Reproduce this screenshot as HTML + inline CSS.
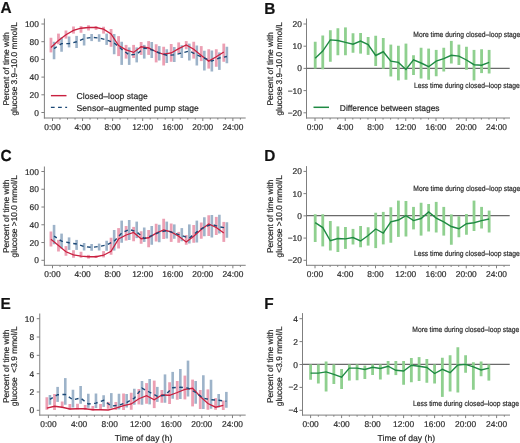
<!DOCTYPE html>
<html><head><meta charset="utf-8"><style>
html,body{margin:0;padding:0;background:#fff;width:520px;height:443px;overflow:hidden}
svg{display:block;font-family:"Liberation Sans", sans-serif;will-change:transform;text-rendering:geometricPrecision}
svg{color:#2a2a2a} text{stroke:currentColor;stroke-width:0.2px}
</style></head><body>
<svg width="520" height="443" viewBox="0 0 520 443">

<text transform="translate(0.4,13.4) scale(1,1.04)" font-size="15.4" font-weight="bold" fill="#111">A</text>
<text transform="translate(264.3,13.5) scale(1,1.04)" font-size="15.4" font-weight="bold" fill="#111">B</text>
<text transform="translate(0.4,161.2) scale(1,1.04)" font-size="15.4" font-weight="bold" fill="#111">C</text>
<text transform="translate(264.3,161.2) scale(1,1.04)" font-size="15.4" font-weight="bold" fill="#111">D</text>
<text transform="translate(0.4,308.6) scale(1,1.04)" font-size="15.4" font-weight="bold" fill="#111">E</text>
<text transform="translate(264.3,308.6) scale(1,1.04)" font-size="15.4" font-weight="bold" fill="#111">F</text>
<line x1="44.4" y1="18.5" x2="44.4" y2="118.5" stroke="#7f7f7f" stroke-width="1" />
<line x1="43.9" y1="118" x2="245.7" y2="118" stroke="#7f7f7f" stroke-width="1" />
<line x1="41.4" y1="24" x2="44.4" y2="24" stroke="#7f7f7f" stroke-width="1" />
<text x="38.9" y="27.05" font-size="8.4" text-anchor="end" font-weight="normal" fill="#2a2a2a" >100</text>
<line x1="41.4" y1="41.7" x2="44.4" y2="41.7" stroke="#7f7f7f" stroke-width="1" />
<text x="38.9" y="44.75" font-size="8.4" text-anchor="end" font-weight="normal" fill="#2a2a2a" >80</text>
<line x1="41.4" y1="59.4" x2="44.4" y2="59.4" stroke="#7f7f7f" stroke-width="1" />
<text x="38.9" y="62.45" font-size="8.4" text-anchor="end" font-weight="normal" fill="#2a2a2a" >60</text>
<line x1="41.4" y1="77.1" x2="44.4" y2="77.1" stroke="#7f7f7f" stroke-width="1" />
<text x="38.9" y="80.15" font-size="8.4" text-anchor="end" font-weight="normal" fill="#2a2a2a" >40</text>
<line x1="41.4" y1="94.8" x2="44.4" y2="94.8" stroke="#7f7f7f" stroke-width="1" />
<text x="38.9" y="97.85" font-size="8.4" text-anchor="end" font-weight="normal" fill="#2a2a2a" >20</text>
<line x1="41.4" y1="112.5" x2="44.4" y2="112.5" stroke="#7f7f7f" stroke-width="1" />
<text x="38.9" y="115.55" font-size="8.4" text-anchor="end" font-weight="normal" fill="#2a2a2a" >0</text>
<line x1="52.5" y1="118" x2="52.5" y2="121" stroke="#7f7f7f" stroke-width="1" />
<text x="52.5" y="130" font-size="8.4" text-anchor="middle" font-weight="normal" fill="#2a2a2a" >0:00</text>
<line x1="60.02" y1="118" x2="60.02" y2="119.6" stroke="#7f7f7f" stroke-width="1" />
<line x1="67.53" y1="118" x2="67.53" y2="119.6" stroke="#7f7f7f" stroke-width="1" />
<line x1="75.05" y1="118" x2="75.05" y2="119.6" stroke="#7f7f7f" stroke-width="1" />
<line x1="82.56" y1="118" x2="82.56" y2="121" stroke="#7f7f7f" stroke-width="1" />
<text x="82.56" y="130" font-size="8.4" text-anchor="middle" font-weight="normal" fill="#2a2a2a" >4:00</text>
<line x1="90.07" y1="118" x2="90.07" y2="119.6" stroke="#7f7f7f" stroke-width="1" />
<line x1="97.59" y1="118" x2="97.59" y2="119.6" stroke="#7f7f7f" stroke-width="1" />
<line x1="105.1" y1="118" x2="105.1" y2="119.6" stroke="#7f7f7f" stroke-width="1" />
<line x1="112.62" y1="118" x2="112.62" y2="121" stroke="#7f7f7f" stroke-width="1" />
<text x="112.62" y="130" font-size="8.4" text-anchor="middle" font-weight="normal" fill="#2a2a2a" >8:00</text>
<line x1="120.13" y1="118" x2="120.13" y2="119.6" stroke="#7f7f7f" stroke-width="1" />
<line x1="127.65" y1="118" x2="127.65" y2="119.6" stroke="#7f7f7f" stroke-width="1" />
<line x1="135.16" y1="118" x2="135.16" y2="119.6" stroke="#7f7f7f" stroke-width="1" />
<line x1="142.68" y1="118" x2="142.68" y2="121" stroke="#7f7f7f" stroke-width="1" />
<text x="142.68" y="130" font-size="8.4" text-anchor="middle" font-weight="normal" fill="#2a2a2a" >12:00</text>
<line x1="150.19" y1="118" x2="150.19" y2="119.6" stroke="#7f7f7f" stroke-width="1" />
<line x1="157.71" y1="118" x2="157.71" y2="119.6" stroke="#7f7f7f" stroke-width="1" />
<line x1="165.22" y1="118" x2="165.22" y2="119.6" stroke="#7f7f7f" stroke-width="1" />
<line x1="172.74" y1="118" x2="172.74" y2="121" stroke="#7f7f7f" stroke-width="1" />
<text x="172.74" y="130" font-size="8.4" text-anchor="middle" font-weight="normal" fill="#2a2a2a" >16:00</text>
<line x1="180.25" y1="118" x2="180.25" y2="119.6" stroke="#7f7f7f" stroke-width="1" />
<line x1="187.77" y1="118" x2="187.77" y2="119.6" stroke="#7f7f7f" stroke-width="1" />
<line x1="195.28" y1="118" x2="195.28" y2="119.6" stroke="#7f7f7f" stroke-width="1" />
<line x1="202.8" y1="118" x2="202.8" y2="121" stroke="#7f7f7f" stroke-width="1" />
<text x="202.8" y="130" font-size="8.4" text-anchor="middle" font-weight="normal" fill="#2a2a2a" >20:00</text>
<line x1="210.31" y1="118" x2="210.31" y2="119.6" stroke="#7f7f7f" stroke-width="1" />
<line x1="217.83" y1="118" x2="217.83" y2="119.6" stroke="#7f7f7f" stroke-width="1" />
<line x1="225.34" y1="118" x2="225.34" y2="119.6" stroke="#7f7f7f" stroke-width="1" />
<line x1="232.86" y1="118" x2="232.86" y2="121" stroke="#7f7f7f" stroke-width="1" />
<text x="232.86" y="130" font-size="8.4" text-anchor="middle" font-weight="normal" fill="#2a2a2a" >24:00</text>
<line x1="240.38" y1="118" x2="240.38" y2="119.6" stroke="#7f7f7f" stroke-width="1" />
<text transform="translate(8.7,68.8) rotate(-90)" font-size="8.4" text-anchor="middle" fill="#2a2a2a">Percent of time with</text>
<text transform="translate(17.2,68.8) rotate(-90)" font-size="8.4" text-anchor="middle" fill="#2a2a2a">glucose 3.9–10.0 mmol/L</text>
<rect x="49.55" y="37.75" width="2.8" height="14.65" fill="#ec9fb3"/>
<rect x="57.07" y="33.6" width="2.8" height="10.65" fill="#ec9fb3"/>
<rect x="64.58" y="30.5" width="2.8" height="8.1" fill="#ec9fb3"/>
<rect x="72.09" y="26.5" width="2.8" height="7.1" fill="#ec9fb3"/>
<rect x="79.61" y="26.1" width="2.8" height="6.65" fill="#ec9fb3"/>
<rect x="87.12" y="25.25" width="2.8" height="5.25" fill="#ec9fb3"/>
<rect x="94.64" y="26.1" width="2.8" height="3.8" fill="#ec9fb3"/>
<rect x="102.15" y="26.75" width="2.8" height="6.85" fill="#ec9fb3"/>
<rect x="109.67" y="29" width="2.8" height="17.75" fill="#ec9fb3"/>
<rect x="117.18" y="36.1" width="2.8" height="20" fill="#ec9fb3"/>
<rect x="124.7" y="44.9" width="2.8" height="13.7" fill="#ec9fb3"/>
<rect x="132.21" y="44.9" width="2.8" height="13.1" fill="#ec9fb3"/>
<rect x="139.73" y="42" width="2.8" height="12.9" fill="#ec9fb3"/>
<rect x="147.24" y="41.1" width="2.8" height="13.8" fill="#ec9fb3"/>
<rect x="154.76" y="44.25" width="2.8" height="18.15" fill="#ec9fb3"/>
<rect x="162.27" y="46.75" width="2.8" height="18.75" fill="#ec9fb3"/>
<rect x="169.79" y="44" width="2.8" height="17.75" fill="#ec9fb3"/>
<rect x="177.3" y="42.4" width="2.8" height="10.6" fill="#ec9fb3"/>
<rect x="184.82" y="41.1" width="2.8" height="8.15" fill="#ec9fb3"/>
<rect x="192.33" y="41.75" width="2.8" height="16.85" fill="#ec9fb3"/>
<rect x="199.85" y="46.1" width="2.8" height="15" fill="#ec9fb3"/>
<rect x="207.36" y="49.25" width="2.8" height="19.35" fill="#ec9fb3"/>
<rect x="214.88" y="49.25" width="2.8" height="17.5" fill="#ec9fb3"/>
<rect x="222.39" y="43.6" width="2.8" height="18.15" fill="#ec9fb3"/>
<rect x="52.75" y="41.75" width="2.6" height="17.5" fill="#9db3c9"/>
<rect x="60.27" y="37.4" width="2.6" height="14.35" fill="#9db3c9"/>
<rect x="67.78" y="36.5" width="2.6" height="10.9" fill="#9db3c9"/>
<rect x="75.3" y="35.9" width="2.6" height="12.1" fill="#9db3c9"/>
<rect x="82.81" y="34" width="2.6" height="11.5" fill="#9db3c9"/>
<rect x="90.32" y="34" width="2.6" height="7.1" fill="#9db3c9"/>
<rect x="97.84" y="34.25" width="2.6" height="7.5" fill="#9db3c9"/>
<rect x="105.35" y="33.6" width="2.6" height="11.3" fill="#9db3c9"/>
<rect x="112.87" y="34" width="2.6" height="20.25" fill="#9db3c9"/>
<rect x="120.38" y="41.75" width="2.6" height="23.15" fill="#9db3c9"/>
<rect x="127.9" y="47.4" width="2.6" height="17.5" fill="#9db3c9"/>
<rect x="135.41" y="47.4" width="2.6" height="15" fill="#9db3c9"/>
<rect x="142.93" y="44.9" width="2.6" height="13.7" fill="#9db3c9"/>
<rect x="150.44" y="42" width="2.6" height="16" fill="#9db3c9"/>
<rect x="157.96" y="46.1" width="2.6" height="14.4" fill="#9db3c9"/>
<rect x="165.47" y="49.25" width="2.6" height="13.75" fill="#9db3c9"/>
<rect x="172.99" y="47" width="2.6" height="15" fill="#9db3c9"/>
<rect x="180.5" y="45.25" width="2.6" height="12.75" fill="#9db3c9"/>
<rect x="188.02" y="43.6" width="2.6" height="16.9" fill="#9db3c9"/>
<rect x="195.53" y="45.5" width="2.6" height="20" fill="#9db3c9"/>
<rect x="203.05" y="50.75" width="2.6" height="19.75" fill="#9db3c9"/>
<rect x="210.56" y="50.5" width="2.6" height="21" fill="#9db3c9"/>
<rect x="218.08" y="52.4" width="2.6" height="17.5" fill="#9db3c9"/>
<rect x="225.59" y="46.75" width="2.6" height="16.5" fill="#9db3c9"/>
<polyline points="50.95,47.4 58.47,40.4 65.98,34.75 73.5,30.4 81.01,28.25 88.52,27.5 96.04,27.5 103.55,29.1 111.07,34 118.58,45.5 126.1,49.9 133.61,52.4 141.13,46.75 148.64,48 156.16,51.75 163.67,54.25 171.19,53 178.7,48.6 186.22,44.9 193.73,49.25 201.25,55.5 208.76,61.1 216.28,56.75 223.79,52" fill="none" stroke="#c9203f" stroke-width="1.3" stroke-linejoin="miter" stroke-linecap="butt" />
<polyline points="54.05,48.6 61.56,43.6 69.08,43.6 76.59,41.75 84.11,38.6 91.62,37.4 99.14,38 106.65,39.9 114.17,43 121.68,49.25 129.2,54.9 136.72,54.25 144.23,48 151.75,49.9 159.26,53 166.78,55.25 174.29,54.9 181.81,53 189.32,51.1 196.84,54.9 204.35,58 211.87,61.1 219.38,58 226.9,56.5" fill="none" stroke="#1b4876" stroke-width="1.4" stroke-linejoin="miter" stroke-linecap="butt" stroke-dasharray="3.7 3.4" stroke-dashoffset="0.4"/>
<line x1="50.9" y1="95.65" x2="66.5" y2="95.65" stroke="#c9203f" stroke-width="1.4" />
<text x="76.6" y="98.5" font-size="8.6" text-anchor="start" font-weight="normal" fill="#2a2a2a" >Closed–loop stage</text>
<line x1="50.9" y1="107.4" x2="67.1" y2="107.4" stroke="#1b4876" stroke-width="1.4" stroke-dasharray="3.75 3.4"/>
<text x="76.6" y="110.8" font-size="8.6" text-anchor="start" font-weight="normal" fill="#2a2a2a" >Sensor–augmented pump stage</text>
<line x1="44.4" y1="166.5" x2="44.4" y2="265.8" stroke="#7f7f7f" stroke-width="1" />
<line x1="43.9" y1="265.3" x2="245.7" y2="265.3" stroke="#7f7f7f" stroke-width="1" />
<line x1="41.4" y1="171.5" x2="44.4" y2="171.5" stroke="#7f7f7f" stroke-width="1" />
<text x="38.9" y="174.55" font-size="8.4" text-anchor="end" font-weight="normal" fill="#2a2a2a" >100</text>
<line x1="41.4" y1="189.26" x2="44.4" y2="189.26" stroke="#7f7f7f" stroke-width="1" />
<text x="38.9" y="192.31" font-size="8.4" text-anchor="end" font-weight="normal" fill="#2a2a2a" >80</text>
<line x1="41.4" y1="207.02" x2="44.4" y2="207.02" stroke="#7f7f7f" stroke-width="1" />
<text x="38.9" y="210.07" font-size="8.4" text-anchor="end" font-weight="normal" fill="#2a2a2a" >60</text>
<line x1="41.4" y1="224.78" x2="44.4" y2="224.78" stroke="#7f7f7f" stroke-width="1" />
<text x="38.9" y="227.83" font-size="8.4" text-anchor="end" font-weight="normal" fill="#2a2a2a" >40</text>
<line x1="41.4" y1="242.54" x2="44.4" y2="242.54" stroke="#7f7f7f" stroke-width="1" />
<text x="38.9" y="245.59" font-size="8.4" text-anchor="end" font-weight="normal" fill="#2a2a2a" >20</text>
<line x1="41.4" y1="260.3" x2="44.4" y2="260.3" stroke="#7f7f7f" stroke-width="1" />
<text x="38.9" y="263.35" font-size="8.4" text-anchor="end" font-weight="normal" fill="#2a2a2a" >0</text>
<line x1="52.5" y1="265.3" x2="52.5" y2="268.3" stroke="#7f7f7f" stroke-width="1" />
<text x="52.5" y="277.3" font-size="8.4" text-anchor="middle" font-weight="normal" fill="#2a2a2a" >0:00</text>
<line x1="60.02" y1="265.3" x2="60.02" y2="266.9" stroke="#7f7f7f" stroke-width="1" />
<line x1="67.53" y1="265.3" x2="67.53" y2="266.9" stroke="#7f7f7f" stroke-width="1" />
<line x1="75.05" y1="265.3" x2="75.05" y2="266.9" stroke="#7f7f7f" stroke-width="1" />
<line x1="82.56" y1="265.3" x2="82.56" y2="268.3" stroke="#7f7f7f" stroke-width="1" />
<text x="82.56" y="277.3" font-size="8.4" text-anchor="middle" font-weight="normal" fill="#2a2a2a" >4:00</text>
<line x1="90.07" y1="265.3" x2="90.07" y2="266.9" stroke="#7f7f7f" stroke-width="1" />
<line x1="97.59" y1="265.3" x2="97.59" y2="266.9" stroke="#7f7f7f" stroke-width="1" />
<line x1="105.1" y1="265.3" x2="105.1" y2="266.9" stroke="#7f7f7f" stroke-width="1" />
<line x1="112.62" y1="265.3" x2="112.62" y2="268.3" stroke="#7f7f7f" stroke-width="1" />
<text x="112.62" y="277.3" font-size="8.4" text-anchor="middle" font-weight="normal" fill="#2a2a2a" >8:00</text>
<line x1="120.13" y1="265.3" x2="120.13" y2="266.9" stroke="#7f7f7f" stroke-width="1" />
<line x1="127.65" y1="265.3" x2="127.65" y2="266.9" stroke="#7f7f7f" stroke-width="1" />
<line x1="135.16" y1="265.3" x2="135.16" y2="266.9" stroke="#7f7f7f" stroke-width="1" />
<line x1="142.68" y1="265.3" x2="142.68" y2="268.3" stroke="#7f7f7f" stroke-width="1" />
<text x="142.68" y="277.3" font-size="8.4" text-anchor="middle" font-weight="normal" fill="#2a2a2a" >12:00</text>
<line x1="150.19" y1="265.3" x2="150.19" y2="266.9" stroke="#7f7f7f" stroke-width="1" />
<line x1="157.71" y1="265.3" x2="157.71" y2="266.9" stroke="#7f7f7f" stroke-width="1" />
<line x1="165.22" y1="265.3" x2="165.22" y2="266.9" stroke="#7f7f7f" stroke-width="1" />
<line x1="172.74" y1="265.3" x2="172.74" y2="268.3" stroke="#7f7f7f" stroke-width="1" />
<text x="172.74" y="277.3" font-size="8.4" text-anchor="middle" font-weight="normal" fill="#2a2a2a" >16:00</text>
<line x1="180.25" y1="265.3" x2="180.25" y2="266.9" stroke="#7f7f7f" stroke-width="1" />
<line x1="187.77" y1="265.3" x2="187.77" y2="266.9" stroke="#7f7f7f" stroke-width="1" />
<line x1="195.28" y1="265.3" x2="195.28" y2="266.9" stroke="#7f7f7f" stroke-width="1" />
<line x1="202.8" y1="265.3" x2="202.8" y2="268.3" stroke="#7f7f7f" stroke-width="1" />
<text x="202.8" y="277.3" font-size="8.4" text-anchor="middle" font-weight="normal" fill="#2a2a2a" >20:00</text>
<line x1="210.31" y1="265.3" x2="210.31" y2="266.9" stroke="#7f7f7f" stroke-width="1" />
<line x1="217.83" y1="265.3" x2="217.83" y2="266.9" stroke="#7f7f7f" stroke-width="1" />
<line x1="225.34" y1="265.3" x2="225.34" y2="266.9" stroke="#7f7f7f" stroke-width="1" />
<line x1="232.86" y1="265.3" x2="232.86" y2="268.3" stroke="#7f7f7f" stroke-width="1" />
<text x="232.86" y="277.3" font-size="8.4" text-anchor="middle" font-weight="normal" fill="#2a2a2a" >24:00</text>
<line x1="240.38" y1="265.3" x2="240.38" y2="266.9" stroke="#7f7f7f" stroke-width="1" />
<text transform="translate(8.7,216.3) rotate(-90)" font-size="8.4" text-anchor="middle" fill="#2a2a2a">Percent of time with</text>
<text transform="translate(17.2,216.3) rotate(-90)" font-size="8.4" text-anchor="middle" fill="#2a2a2a">glucose &gt;10.0 mmol/L</text>
<rect x="49.55" y="231.5" width="2.8" height="15" fill="#ec9fb3"/>
<rect x="57.07" y="239.9" width="2.8" height="11.6" fill="#ec9fb3"/>
<rect x="64.58" y="246.1" width="2.8" height="9.65" fill="#ec9fb3"/>
<rect x="72.09" y="250.25" width="2.8" height="7.5" fill="#ec9fb3"/>
<rect x="79.61" y="251.75" width="2.8" height="6" fill="#ec9fb3"/>
<rect x="87.12" y="254.9" width="2.8" height="3.7" fill="#ec9fb3"/>
<rect x="94.64" y="255.5" width="2.8" height="2.5" fill="#ec9fb3"/>
<rect x="102.15" y="251.1" width="2.8" height="6.3" fill="#ec9fb3"/>
<rect x="109.67" y="237.75" width="2.8" height="17" fill="#ec9fb3"/>
<rect x="117.18" y="228.1" width="2.8" height="20.4" fill="#ec9fb3"/>
<rect x="124.7" y="226" width="2.8" height="14.6" fill="#ec9fb3"/>
<rect x="132.21" y="226.9" width="2.8" height="14.35" fill="#ec9fb3"/>
<rect x="139.73" y="231.25" width="2.8" height="12.5" fill="#ec9fb3"/>
<rect x="147.24" y="230" width="2.8" height="17.25" fill="#ec9fb3"/>
<rect x="154.76" y="223.75" width="2.8" height="17.75" fill="#ec9fb3"/>
<rect x="162.27" y="218.75" width="2.8" height="20.25" fill="#ec9fb3"/>
<rect x="169.79" y="223.5" width="2.8" height="18.4" fill="#ec9fb3"/>
<rect x="177.3" y="231.9" width="2.8" height="10.85" fill="#ec9fb3"/>
<rect x="184.82" y="235" width="2.8" height="9.75" fill="#ec9fb3"/>
<rect x="192.33" y="225" width="2.8" height="17.75" fill="#ec9fb3"/>
<rect x="199.85" y="222.5" width="2.8" height="16.25" fill="#ec9fb3"/>
<rect x="207.36" y="215.25" width="2.8" height="20.75" fill="#ec9fb3"/>
<rect x="214.88" y="216.9" width="2.8" height="18.1" fill="#ec9fb3"/>
<rect x="222.39" y="221.9" width="2.8" height="20" fill="#ec9fb3"/>
<rect x="52.75" y="224.9" width="2.6" height="19.35" fill="#9db3c9"/>
<rect x="60.27" y="233.6" width="2.6" height="15" fill="#9db3c9"/>
<rect x="67.78" y="237.4" width="2.6" height="12.5" fill="#9db3c9"/>
<rect x="75.3" y="239.9" width="2.6" height="10" fill="#9db3c9"/>
<rect x="82.81" y="243" width="2.6" height="7.5" fill="#9db3c9"/>
<rect x="90.32" y="244" width="2.6" height="6.75" fill="#9db3c9"/>
<rect x="97.84" y="243.6" width="2.6" height="6.9" fill="#9db3c9"/>
<rect x="105.35" y="240.75" width="2.6" height="10" fill="#9db3c9"/>
<rect x="112.87" y="230" width="2.6" height="20.6" fill="#9db3c9"/>
<rect x="120.38" y="220.6" width="2.6" height="22.15" fill="#9db3c9"/>
<rect x="127.9" y="220" width="2.6" height="20" fill="#9db3c9"/>
<rect x="135.41" y="221.6" width="2.6" height="16.5" fill="#9db3c9"/>
<rect x="142.93" y="227.5" width="2.6" height="14.4" fill="#9db3c9"/>
<rect x="150.44" y="226" width="2.6" height="18.75" fill="#9db3c9"/>
<rect x="157.96" y="224.75" width="2.6" height="17.5" fill="#9db3c9"/>
<rect x="165.47" y="221.6" width="2.6" height="16.9" fill="#9db3c9"/>
<rect x="172.99" y="224.4" width="2.6" height="14.35" fill="#9db3c9"/>
<rect x="180.5" y="228.1" width="2.6" height="13.15" fill="#9db3c9"/>
<rect x="188.02" y="224.4" width="2.6" height="19.1" fill="#9db3c9"/>
<rect x="195.53" y="220.6" width="2.6" height="21.9" fill="#9db3c9"/>
<rect x="203.05" y="217.25" width="2.6" height="19" fill="#9db3c9"/>
<rect x="210.56" y="215" width="2.6" height="22.5" fill="#9db3c9"/>
<rect x="218.08" y="214.75" width="2.6" height="18.75" fill="#9db3c9"/>
<rect x="225.59" y="222.25" width="2.6" height="15.5" fill="#9db3c9"/>
<polyline points="50.95,239.25 58.47,245.5 65.98,251.75 73.5,254.9 81.01,256.1 88.52,256.75 96.04,256.75 103.55,255.25 111.07,251.25 118.58,239 126.1,235 133.61,232.5 141.13,238.75 148.64,237.75 156.16,233.1 163.67,230 171.19,231.9 178.7,236.25 186.22,241.9 193.73,236.25 201.25,229.4 208.76,224 216.28,227.5 223.79,233.1" fill="none" stroke="#c9203f" stroke-width="1.3" stroke-linejoin="miter" stroke-linecap="butt" />
<polyline points="54.05,236.1 61.56,241.1 69.08,242.75 76.59,244 84.11,246.5 91.62,247.4 99.14,246.5 106.65,244.9 114.17,241.25 121.68,233.1 129.2,229.4 136.72,231.9 144.23,238.5 151.75,235.6 159.26,232.25 166.78,230.6 174.29,233.1 181.81,235.6 189.32,238.1 196.84,231.9 204.35,226.9 211.87,224.4 219.38,226.9 226.9,228.1" fill="none" stroke="#1b4876" stroke-width="1.4" stroke-linejoin="miter" stroke-linecap="butt" stroke-dasharray="3.7 3.4" stroke-dashoffset="0.4"/>
<line x1="39.75" y1="313.5" x2="39.75" y2="415.6" stroke="#7f7f7f" stroke-width="1" />
<line x1="39.25" y1="415.1" x2="245.7" y2="415.1" stroke="#7f7f7f" stroke-width="1" />
<line x1="36.75" y1="318.7" x2="39.75" y2="318.7" stroke="#7f7f7f" stroke-width="1" />
<text x="34.2" y="321.75" font-size="8.4" text-anchor="end" font-weight="normal" fill="#2a2a2a" >10</text>
<line x1="36.75" y1="337.02" x2="39.75" y2="337.02" stroke="#7f7f7f" stroke-width="1" />
<text x="34.2" y="340.07" font-size="8.4" text-anchor="end" font-weight="normal" fill="#2a2a2a" >8</text>
<line x1="36.75" y1="355.34" x2="39.75" y2="355.34" stroke="#7f7f7f" stroke-width="1" />
<text x="34.2" y="358.39" font-size="8.4" text-anchor="end" font-weight="normal" fill="#2a2a2a" >6</text>
<line x1="36.75" y1="373.66" x2="39.75" y2="373.66" stroke="#7f7f7f" stroke-width="1" />
<text x="34.2" y="376.71" font-size="8.4" text-anchor="end" font-weight="normal" fill="#2a2a2a" >4</text>
<line x1="36.75" y1="391.98" x2="39.75" y2="391.98" stroke="#7f7f7f" stroke-width="1" />
<text x="34.2" y="395.03" font-size="8.4" text-anchor="end" font-weight="normal" fill="#2a2a2a" >2</text>
<line x1="36.75" y1="410.3" x2="39.75" y2="410.3" stroke="#7f7f7f" stroke-width="1" />
<text x="34.2" y="413.35" font-size="8.4" text-anchor="end" font-weight="normal" fill="#2a2a2a" >0</text>
<line x1="48.4" y1="415.1" x2="48.4" y2="418.1" stroke="#7f7f7f" stroke-width="1" />
<text x="48.4" y="427.1" font-size="8.4" text-anchor="middle" font-weight="normal" fill="#2a2a2a" >0:00</text>
<line x1="56.07" y1="415.1" x2="56.07" y2="416.7" stroke="#7f7f7f" stroke-width="1" />
<line x1="63.74" y1="415.1" x2="63.74" y2="416.7" stroke="#7f7f7f" stroke-width="1" />
<line x1="71.41" y1="415.1" x2="71.41" y2="416.7" stroke="#7f7f7f" stroke-width="1" />
<line x1="79.08" y1="415.1" x2="79.08" y2="418.1" stroke="#7f7f7f" stroke-width="1" />
<text x="79.08" y="427.1" font-size="8.4" text-anchor="middle" font-weight="normal" fill="#2a2a2a" >4:00</text>
<line x1="86.75" y1="415.1" x2="86.75" y2="416.7" stroke="#7f7f7f" stroke-width="1" />
<line x1="94.42" y1="415.1" x2="94.42" y2="416.7" stroke="#7f7f7f" stroke-width="1" />
<line x1="102.09" y1="415.1" x2="102.09" y2="416.7" stroke="#7f7f7f" stroke-width="1" />
<line x1="109.76" y1="415.1" x2="109.76" y2="418.1" stroke="#7f7f7f" stroke-width="1" />
<text x="109.76" y="427.1" font-size="8.4" text-anchor="middle" font-weight="normal" fill="#2a2a2a" >8:00</text>
<line x1="117.43" y1="415.1" x2="117.43" y2="416.7" stroke="#7f7f7f" stroke-width="1" />
<line x1="125.1" y1="415.1" x2="125.1" y2="416.7" stroke="#7f7f7f" stroke-width="1" />
<line x1="132.77" y1="415.1" x2="132.77" y2="416.7" stroke="#7f7f7f" stroke-width="1" />
<line x1="140.44" y1="415.1" x2="140.44" y2="418.1" stroke="#7f7f7f" stroke-width="1" />
<text x="140.44" y="427.1" font-size="8.4" text-anchor="middle" font-weight="normal" fill="#2a2a2a" >12:00</text>
<line x1="148.11" y1="415.1" x2="148.11" y2="416.7" stroke="#7f7f7f" stroke-width="1" />
<line x1="155.78" y1="415.1" x2="155.78" y2="416.7" stroke="#7f7f7f" stroke-width="1" />
<line x1="163.45" y1="415.1" x2="163.45" y2="416.7" stroke="#7f7f7f" stroke-width="1" />
<line x1="171.12" y1="415.1" x2="171.12" y2="418.1" stroke="#7f7f7f" stroke-width="1" />
<text x="171.12" y="427.1" font-size="8.4" text-anchor="middle" font-weight="normal" fill="#2a2a2a" >16:00</text>
<line x1="178.79" y1="415.1" x2="178.79" y2="416.7" stroke="#7f7f7f" stroke-width="1" />
<line x1="186.46" y1="415.1" x2="186.46" y2="416.7" stroke="#7f7f7f" stroke-width="1" />
<line x1="194.13" y1="415.1" x2="194.13" y2="416.7" stroke="#7f7f7f" stroke-width="1" />
<line x1="201.8" y1="415.1" x2="201.8" y2="418.1" stroke="#7f7f7f" stroke-width="1" />
<text x="201.8" y="427.1" font-size="8.4" text-anchor="middle" font-weight="normal" fill="#2a2a2a" >20:00</text>
<line x1="209.47" y1="415.1" x2="209.47" y2="416.7" stroke="#7f7f7f" stroke-width="1" />
<line x1="217.14" y1="415.1" x2="217.14" y2="416.7" stroke="#7f7f7f" stroke-width="1" />
<line x1="224.81" y1="415.1" x2="224.81" y2="416.7" stroke="#7f7f7f" stroke-width="1" />
<line x1="232.48" y1="415.1" x2="232.48" y2="418.1" stroke="#7f7f7f" stroke-width="1" />
<text x="232.48" y="427.1" font-size="8.4" text-anchor="middle" font-weight="normal" fill="#2a2a2a" >24:00</text>
<line x1="240.15" y1="415.1" x2="240.15" y2="416.7" stroke="#7f7f7f" stroke-width="1" />
<text transform="translate(8.7,366.3) rotate(-90)" font-size="8.4" text-anchor="middle" fill="#2a2a2a">Percent of time with</text>
<text transform="translate(17.2,366.3) rotate(-90)" font-size="8.4" text-anchor="middle" fill="#2a2a2a">glucose &#160;&lt;3.9 mmol/L</text>
<rect x="45.45" y="397.25" width="2.8" height="12.5" fill="#ec9fb3"/>
<rect x="53.12" y="394" width="2.8" height="16" fill="#ec9fb3"/>
<rect x="60.79" y="401.5" width="2.8" height="6.6" fill="#ec9fb3"/>
<rect x="68.46" y="404" width="2.8" height="5.75" fill="#ec9fb3"/>
<rect x="76.13" y="403.75" width="2.8" height="5.65" fill="#ec9fb3"/>
<rect x="83.8" y="405" width="2.8" height="5" fill="#ec9fb3"/>
<rect x="91.47" y="406" width="2.8" height="4.6" fill="#ec9fb3"/>
<rect x="99.14" y="404" width="2.8" height="6" fill="#ec9fb3"/>
<rect x="106.81" y="401.9" width="2.8" height="6.85" fill="#ec9fb3"/>
<rect x="114.48" y="402" width="2.8" height="8" fill="#ec9fb3"/>
<rect x="122.15" y="393.5" width="2.8" height="16.5" fill="#ec9fb3"/>
<rect x="129.82" y="392.75" width="2.8" height="17" fill="#ec9fb3"/>
<rect x="137.49" y="389" width="2.8" height="15.4" fill="#ec9fb3"/>
<rect x="145.16" y="383.1" width="2.8" height="20.65" fill="#ec9fb3"/>
<rect x="152.83" y="380.6" width="2.8" height="27.5" fill="#ec9fb3"/>
<rect x="160.5" y="390" width="2.8" height="12.75" fill="#ec9fb3"/>
<rect x="168.17" y="382.25" width="2.8" height="21.75" fill="#ec9fb3"/>
<rect x="175.84" y="381" width="2.8" height="18.75" fill="#ec9fb3"/>
<rect x="183.51" y="375.6" width="2.8" height="23.8" fill="#ec9fb3"/>
<rect x="191.18" y="379.6" width="2.8" height="26.8" fill="#ec9fb3"/>
<rect x="198.85" y="390" width="2.8" height="19" fill="#ec9fb3"/>
<rect x="206.52" y="389.4" width="2.8" height="20.35" fill="#ec9fb3"/>
<rect x="214.19" y="398.1" width="2.8" height="11.65" fill="#ec9fb3"/>
<rect x="221.86" y="400.6" width="2.8" height="9.4" fill="#ec9fb3"/>
<rect x="48.65" y="395" width="2.6" height="9.75" fill="#9db3c9"/>
<rect x="56.32" y="386.9" width="2.6" height="15" fill="#9db3c9"/>
<rect x="63.99" y="378.1" width="2.6" height="26.65" fill="#9db3c9"/>
<rect x="71.66" y="389.75" width="2.6" height="17.75" fill="#9db3c9"/>
<rect x="79.33" y="386" width="2.6" height="17.75" fill="#9db3c9"/>
<rect x="87" y="393.75" width="2.6" height="14" fill="#9db3c9"/>
<rect x="94.67" y="393.5" width="2.6" height="14.6" fill="#9db3c9"/>
<rect x="102.34" y="395.25" width="2.6" height="11.65" fill="#9db3c9"/>
<rect x="110.01" y="393.1" width="2.6" height="15" fill="#9db3c9"/>
<rect x="117.68" y="393.75" width="2.6" height="15.65" fill="#9db3c9"/>
<rect x="125.35" y="394" width="2.6" height="13.5" fill="#9db3c9"/>
<rect x="133.02" y="388.75" width="2.6" height="16" fill="#9db3c9"/>
<rect x="140.69" y="381" width="2.6" height="23.75" fill="#9db3c9"/>
<rect x="148.36" y="379" width="2.6" height="25.4" fill="#9db3c9"/>
<rect x="156.03" y="386.9" width="2.6" height="15" fill="#9db3c9"/>
<rect x="163.7" y="374.4" width="2.6" height="28.35" fill="#9db3c9"/>
<rect x="171.37" y="371.9" width="2.6" height="26.85" fill="#9db3c9"/>
<rect x="179.04" y="369" width="2.6" height="30" fill="#9db3c9"/>
<rect x="186.71" y="360.6" width="2.6" height="35.9" fill="#9db3c9"/>
<rect x="194.38" y="381" width="2.6" height="22.75" fill="#9db3c9"/>
<rect x="202.05" y="375.25" width="2.6" height="33.75" fill="#9db3c9"/>
<rect x="209.72" y="379.75" width="2.6" height="29" fill="#9db3c9"/>
<rect x="217.39" y="394" width="2.6" height="13.5" fill="#9db3c9"/>
<rect x="225.06" y="391.9" width="2.6" height="15.85" fill="#9db3c9"/>
<polyline points="46.85,408.1 54.52,406.25 62.19,407.25 69.86,409 77.53,408.75 85.2,408.75 92.87,409.75 100.54,409.75 108.21,410 115.88,408.1 123.55,405.6 131.22,404 138.89,398.75 146.56,395.6 154.23,399.75 161.9,395 169.57,395.25 177.24,392.5 184.91,389.4 192.58,388.3 200.25,396.5 207.92,403.5 215.59,407.2 223.26,405.4" fill="none" stroke="#c9203f" stroke-width="1.3" stroke-linejoin="miter" stroke-linecap="butt" />
<polyline points="49.95,399.4 57.62,394.75 65.29,394.4 72.96,399.75 80.63,398.1 88.3,404 95.97,403.1 103.64,400.25 111.31,406 118.98,405.25 126.65,402.5 134.32,398.1 141.99,388.1 149.66,392.25 157.33,396.25 165,395.25 172.67,387.75 180.34,387.25 188.01,388.1 195.68,392.5 203.35,398.3 211.02,399.7 218.69,400.3 226.36,401.25" fill="none" stroke="#1b4876" stroke-width="1.4" stroke-linejoin="miter" stroke-linecap="butt" stroke-dasharray="3.7 3.4" stroke-dashoffset="0.4"/>
<text x="143.6" y="441" font-size="8.6" text-anchor="middle" font-weight="normal" fill="#2a2a2a" >Time of day (h)</text>
<line x1="306.5" y1="18.5" x2="306.5" y2="118.5" stroke="#7f7f7f" stroke-width="1" />
<line x1="306" y1="118" x2="510" y2="118" stroke="#7f7f7f" stroke-width="1" />
<line x1="303.5" y1="24" x2="306.5" y2="24" stroke="#7f7f7f" stroke-width="1" />
<text x="301.9" y="27.05" font-size="8.4" text-anchor="end" font-weight="normal" fill="#2a2a2a" >20</text>
<line x1="303.5" y1="46.2" x2="306.5" y2="46.2" stroke="#7f7f7f" stroke-width="1" />
<text x="301.9" y="49.25" font-size="8.4" text-anchor="end" font-weight="normal" fill="#2a2a2a" >10</text>
<line x1="303.5" y1="68.4" x2="306.5" y2="68.4" stroke="#7f7f7f" stroke-width="1" />
<text x="301.9" y="71.45" font-size="8.4" text-anchor="end" font-weight="normal" fill="#2a2a2a" >0</text>
<line x1="303.5" y1="90.6" x2="306.5" y2="90.6" stroke="#7f7f7f" stroke-width="1" />
<text x="301.9" y="93.65" font-size="8.4" text-anchor="end" font-weight="normal" fill="#2a2a2a" >−10</text>
<line x1="303.5" y1="112.8" x2="306.5" y2="112.8" stroke="#7f7f7f" stroke-width="1" />
<text x="301.9" y="115.85" font-size="8.4" text-anchor="end" font-weight="normal" fill="#2a2a2a" >−20</text>
<line x1="315" y1="118" x2="315" y2="121" stroke="#7f7f7f" stroke-width="1" />
<text x="315" y="130" font-size="8.4" text-anchor="middle" font-weight="normal" fill="#2a2a2a" >0:00</text>
<line x1="322.56" y1="118" x2="322.56" y2="119.6" stroke="#7f7f7f" stroke-width="1" />
<line x1="330.12" y1="118" x2="330.12" y2="119.6" stroke="#7f7f7f" stroke-width="1" />
<line x1="337.69" y1="118" x2="337.69" y2="119.6" stroke="#7f7f7f" stroke-width="1" />
<line x1="345.25" y1="118" x2="345.25" y2="121" stroke="#7f7f7f" stroke-width="1" />
<text x="345.25" y="130" font-size="8.4" text-anchor="middle" font-weight="normal" fill="#2a2a2a" >4:00</text>
<line x1="352.81" y1="118" x2="352.81" y2="119.6" stroke="#7f7f7f" stroke-width="1" />
<line x1="360.38" y1="118" x2="360.38" y2="119.6" stroke="#7f7f7f" stroke-width="1" />
<line x1="367.94" y1="118" x2="367.94" y2="119.6" stroke="#7f7f7f" stroke-width="1" />
<line x1="375.5" y1="118" x2="375.5" y2="121" stroke="#7f7f7f" stroke-width="1" />
<text x="375.5" y="130" font-size="8.4" text-anchor="middle" font-weight="normal" fill="#2a2a2a" >8:00</text>
<line x1="383.06" y1="118" x2="383.06" y2="119.6" stroke="#7f7f7f" stroke-width="1" />
<line x1="390.62" y1="118" x2="390.62" y2="119.6" stroke="#7f7f7f" stroke-width="1" />
<line x1="398.19" y1="118" x2="398.19" y2="119.6" stroke="#7f7f7f" stroke-width="1" />
<line x1="405.75" y1="118" x2="405.75" y2="121" stroke="#7f7f7f" stroke-width="1" />
<text x="405.75" y="130" font-size="8.4" text-anchor="middle" font-weight="normal" fill="#2a2a2a" >12:00</text>
<line x1="413.31" y1="118" x2="413.31" y2="119.6" stroke="#7f7f7f" stroke-width="1" />
<line x1="420.88" y1="118" x2="420.88" y2="119.6" stroke="#7f7f7f" stroke-width="1" />
<line x1="428.44" y1="118" x2="428.44" y2="119.6" stroke="#7f7f7f" stroke-width="1" />
<line x1="436" y1="118" x2="436" y2="121" stroke="#7f7f7f" stroke-width="1" />
<text x="436" y="130" font-size="8.4" text-anchor="middle" font-weight="normal" fill="#2a2a2a" >16:00</text>
<line x1="443.56" y1="118" x2="443.56" y2="119.6" stroke="#7f7f7f" stroke-width="1" />
<line x1="451.12" y1="118" x2="451.12" y2="119.6" stroke="#7f7f7f" stroke-width="1" />
<line x1="458.69" y1="118" x2="458.69" y2="119.6" stroke="#7f7f7f" stroke-width="1" />
<line x1="466.25" y1="118" x2="466.25" y2="121" stroke="#7f7f7f" stroke-width="1" />
<text x="466.25" y="130" font-size="8.4" text-anchor="middle" font-weight="normal" fill="#2a2a2a" >20:00</text>
<line x1="473.81" y1="118" x2="473.81" y2="119.6" stroke="#7f7f7f" stroke-width="1" />
<line x1="481.38" y1="118" x2="481.38" y2="119.6" stroke="#7f7f7f" stroke-width="1" />
<line x1="488.94" y1="118" x2="488.94" y2="119.6" stroke="#7f7f7f" stroke-width="1" />
<line x1="496.5" y1="118" x2="496.5" y2="121" stroke="#7f7f7f" stroke-width="1" />
<text x="496.5" y="130" font-size="8.4" text-anchor="middle" font-weight="normal" fill="#2a2a2a" >24:00</text>
<line x1="504.06" y1="118" x2="504.06" y2="119.6" stroke="#7f7f7f" stroke-width="1" />
<text transform="translate(272.8,68.8) rotate(-90)" font-size="8.4" text-anchor="middle" fill="#2a2a2a">Percent of time with</text>
<text transform="translate(281.5,68.8) rotate(-90)" font-size="8.4" text-anchor="middle" fill="#2a2a2a">glucose 3.9–10.0 mmol/L</text>
<line x1="306.5" y1="68.3" x2="509.7" y2="68.3" stroke="#6a6a6a" stroke-width="1.15" />
<rect x="313.8" y="41.75" width="2.8" height="26.85" fill="#8fd08f"/>
<rect x="321.36" y="35.5" width="2.8" height="33.75" fill="#8fd08f"/>
<rect x="328.93" y="30.25" width="2.8" height="31.5" fill="#8fd08f"/>
<rect x="336.49" y="28.25" width="2.8" height="27" fill="#8fd08f"/>
<rect x="344.05" y="27.4" width="2.8" height="27.85" fill="#8fd08f"/>
<rect x="351.61" y="33.25" width="2.8" height="19.5" fill="#8fd08f"/>
<rect x="359.18" y="33" width="2.8" height="20.6" fill="#8fd08f"/>
<rect x="366.74" y="37" width="2.8" height="17.9" fill="#8fd08f"/>
<rect x="374.3" y="35.75" width="2.8" height="30.25" fill="#8fd08f"/>
<rect x="381.86" y="38" width="2.8" height="30.75" fill="#8fd08f"/>
<rect x="389.43" y="44.6" width="2.8" height="31.9" fill="#8fd08f"/>
<rect x="396.99" y="45.75" width="2.8" height="34.65" fill="#8fd08f"/>
<rect x="404.55" y="43.6" width="2.8" height="36.15" fill="#8fd08f"/>
<rect x="412.11" y="55.25" width="2.8" height="19.75" fill="#8fd08f"/>
<rect x="419.68" y="47.75" width="2.8" height="30.75" fill="#8fd08f"/>
<rect x="427.24" y="48.6" width="2.8" height="31.15" fill="#8fd08f"/>
<rect x="434.8" y="49.9" width="2.8" height="26.35" fill="#8fd08f"/>
<rect x="442.36" y="47.75" width="2.8" height="23.75" fill="#8fd08f"/>
<rect x="449.93" y="40.9" width="2.8" height="22.6" fill="#8fd08f"/>
<rect x="457.49" y="44.6" width="2.8" height="20.4" fill="#8fd08f"/>
<rect x="465.05" y="46.75" width="2.8" height="23" fill="#8fd08f"/>
<rect x="472.61" y="49.9" width="2.8" height="30.5" fill="#8fd08f"/>
<rect x="480.18" y="49.25" width="2.8" height="23.85" fill="#8fd08f"/>
<rect x="487.74" y="49.9" width="2.8" height="23.6" fill="#8fd08f"/>
<polyline points="315.2,58.25 322.76,51.1 330.32,39.9 337.89,40.5 345.45,42.4 353.01,44.25 360.57,41.1 368.14,44.6 375.7,55.5 383.26,51.75 390.82,61.1 398.39,62.4 405.95,69.5 413.51,59.9 421.07,63 428.64,66.75 436.2,61.1 443.76,58.6 451.32,55.25 458.89,56.1 466.45,60 474.01,64.7 481.57,65.25 489.14,62.4" fill="none" stroke="#1f8a43" stroke-width="1.4" stroke-linejoin="miter" stroke-linecap="butt" />
<text transform="translate(413.3,37.3) scale(0.89,1)" font-size="7.6" fill="#2a2a2a">More time during closed–loop stage</text>
<text transform="translate(413.9,87.9) scale(0.89,1)" font-size="7.6" fill="#2a2a2a">Less time during closed–loop stage</text>
<line x1="313.5" y1="107.3" x2="329" y2="107.3" stroke="#1f8a43" stroke-width="1.5" />
<text x="339.8" y="110.5" font-size="8.45" text-anchor="start" font-weight="normal" fill="#2a2a2a" >Difference between stages</text>
<line x1="306.5" y1="166.1" x2="306.5" y2="265.8" stroke="#7f7f7f" stroke-width="1" />
<line x1="306" y1="265.3" x2="510" y2="265.3" stroke="#7f7f7f" stroke-width="1" />
<line x1="303.5" y1="171.4" x2="306.5" y2="171.4" stroke="#7f7f7f" stroke-width="1" />
<text x="301.9" y="174.45" font-size="8.4" text-anchor="end" font-weight="normal" fill="#2a2a2a" >20</text>
<line x1="303.5" y1="193.62" x2="306.5" y2="193.62" stroke="#7f7f7f" stroke-width="1" />
<text x="301.9" y="196.68" font-size="8.4" text-anchor="end" font-weight="normal" fill="#2a2a2a" >10</text>
<line x1="303.5" y1="215.85" x2="306.5" y2="215.85" stroke="#7f7f7f" stroke-width="1" />
<text x="301.9" y="218.9" font-size="8.4" text-anchor="end" font-weight="normal" fill="#2a2a2a" >0</text>
<line x1="303.5" y1="238.08" x2="306.5" y2="238.08" stroke="#7f7f7f" stroke-width="1" />
<text x="301.9" y="241.13" font-size="8.4" text-anchor="end" font-weight="normal" fill="#2a2a2a" >−10</text>
<line x1="303.5" y1="260.3" x2="306.5" y2="260.3" stroke="#7f7f7f" stroke-width="1" />
<text x="301.9" y="263.35" font-size="8.4" text-anchor="end" font-weight="normal" fill="#2a2a2a" >−20</text>
<line x1="315" y1="265.3" x2="315" y2="268.3" stroke="#7f7f7f" stroke-width="1" />
<text x="315" y="277.3" font-size="8.4" text-anchor="middle" font-weight="normal" fill="#2a2a2a" >0:00</text>
<line x1="322.56" y1="265.3" x2="322.56" y2="266.9" stroke="#7f7f7f" stroke-width="1" />
<line x1="330.12" y1="265.3" x2="330.12" y2="266.9" stroke="#7f7f7f" stroke-width="1" />
<line x1="337.69" y1="265.3" x2="337.69" y2="266.9" stroke="#7f7f7f" stroke-width="1" />
<line x1="345.25" y1="265.3" x2="345.25" y2="268.3" stroke="#7f7f7f" stroke-width="1" />
<text x="345.25" y="277.3" font-size="8.4" text-anchor="middle" font-weight="normal" fill="#2a2a2a" >4:00</text>
<line x1="352.81" y1="265.3" x2="352.81" y2="266.9" stroke="#7f7f7f" stroke-width="1" />
<line x1="360.38" y1="265.3" x2="360.38" y2="266.9" stroke="#7f7f7f" stroke-width="1" />
<line x1="367.94" y1="265.3" x2="367.94" y2="266.9" stroke="#7f7f7f" stroke-width="1" />
<line x1="375.5" y1="265.3" x2="375.5" y2="268.3" stroke="#7f7f7f" stroke-width="1" />
<text x="375.5" y="277.3" font-size="8.4" text-anchor="middle" font-weight="normal" fill="#2a2a2a" >8:00</text>
<line x1="383.06" y1="265.3" x2="383.06" y2="266.9" stroke="#7f7f7f" stroke-width="1" />
<line x1="390.62" y1="265.3" x2="390.62" y2="266.9" stroke="#7f7f7f" stroke-width="1" />
<line x1="398.19" y1="265.3" x2="398.19" y2="266.9" stroke="#7f7f7f" stroke-width="1" />
<line x1="405.75" y1="265.3" x2="405.75" y2="268.3" stroke="#7f7f7f" stroke-width="1" />
<text x="405.75" y="277.3" font-size="8.4" text-anchor="middle" font-weight="normal" fill="#2a2a2a" >12:00</text>
<line x1="413.31" y1="265.3" x2="413.31" y2="266.9" stroke="#7f7f7f" stroke-width="1" />
<line x1="420.88" y1="265.3" x2="420.88" y2="266.9" stroke="#7f7f7f" stroke-width="1" />
<line x1="428.44" y1="265.3" x2="428.44" y2="266.9" stroke="#7f7f7f" stroke-width="1" />
<line x1="436" y1="265.3" x2="436" y2="268.3" stroke="#7f7f7f" stroke-width="1" />
<text x="436" y="277.3" font-size="8.4" text-anchor="middle" font-weight="normal" fill="#2a2a2a" >16:00</text>
<line x1="443.56" y1="265.3" x2="443.56" y2="266.9" stroke="#7f7f7f" stroke-width="1" />
<line x1="451.12" y1="265.3" x2="451.12" y2="266.9" stroke="#7f7f7f" stroke-width="1" />
<line x1="458.69" y1="265.3" x2="458.69" y2="266.9" stroke="#7f7f7f" stroke-width="1" />
<line x1="466.25" y1="265.3" x2="466.25" y2="268.3" stroke="#7f7f7f" stroke-width="1" />
<text x="466.25" y="277.3" font-size="8.4" text-anchor="middle" font-weight="normal" fill="#2a2a2a" >20:00</text>
<line x1="473.81" y1="265.3" x2="473.81" y2="266.9" stroke="#7f7f7f" stroke-width="1" />
<line x1="481.38" y1="265.3" x2="481.38" y2="266.9" stroke="#7f7f7f" stroke-width="1" />
<line x1="488.94" y1="265.3" x2="488.94" y2="266.9" stroke="#7f7f7f" stroke-width="1" />
<line x1="496.5" y1="265.3" x2="496.5" y2="268.3" stroke="#7f7f7f" stroke-width="1" />
<text x="496.5" y="277.3" font-size="8.4" text-anchor="middle" font-weight="normal" fill="#2a2a2a" >24:00</text>
<line x1="504.06" y1="265.3" x2="504.06" y2="266.9" stroke="#7f7f7f" stroke-width="1" />
<text transform="translate(272.8,216.3) rotate(-90)" font-size="8.4" text-anchor="middle" fill="#2a2a2a">Percent of time with</text>
<text transform="translate(281.5,216.3) rotate(-90)" font-size="8.4" text-anchor="middle" fill="#2a2a2a">glucose &gt;10.0 mmol/L</text>
<line x1="306.5" y1="215.6" x2="509.7" y2="215.6" stroke="#6a6a6a" stroke-width="1.15" />
<rect x="313.8" y="214.25" width="2.8" height="27.75" fill="#8fd08f"/>
<rect x="321.36" y="214.25" width="2.8" height="32.15" fill="#8fd08f"/>
<rect x="328.93" y="221" width="2.8" height="29.5" fill="#8fd08f"/>
<rect x="336.49" y="226.4" width="2.8" height="25.6" fill="#8fd08f"/>
<rect x="344.05" y="227" width="2.8" height="21.9" fill="#8fd08f"/>
<rect x="351.61" y="228.9" width="2.8" height="15.6" fill="#8fd08f"/>
<rect x="359.18" y="226" width="2.8" height="21.25" fill="#8fd08f"/>
<rect x="366.74" y="227.25" width="2.8" height="18.35" fill="#8fd08f"/>
<rect x="374.3" y="212.75" width="2.8" height="35.35" fill="#8fd08f"/>
<rect x="381.86" y="211.9" width="2.8" height="32.5" fill="#8fd08f"/>
<rect x="389.43" y="207.25" width="2.8" height="35.5" fill="#8fd08f"/>
<rect x="396.99" y="200.6" width="2.8" height="36.3" fill="#8fd08f"/>
<rect x="404.55" y="201" width="2.8" height="35.5" fill="#8fd08f"/>
<rect x="412.11" y="206.9" width="2.8" height="22.5" fill="#8fd08f"/>
<rect x="419.68" y="202.75" width="2.8" height="32.85" fill="#8fd08f"/>
<rect x="427.24" y="204" width="2.8" height="27.5" fill="#8fd08f"/>
<rect x="434.8" y="201.9" width="2.8" height="30.6" fill="#8fd08f"/>
<rect x="442.36" y="206.9" width="2.8" height="28.7" fill="#8fd08f"/>
<rect x="449.93" y="214.4" width="2.8" height="30.35" fill="#8fd08f"/>
<rect x="457.49" y="216.25" width="2.8" height="21" fill="#8fd08f"/>
<rect x="465.05" y="214" width="2.8" height="20.75" fill="#8fd08f"/>
<rect x="472.61" y="200.6" width="2.8" height="30.4" fill="#8fd08f"/>
<rect x="480.18" y="206.9" width="2.8" height="21.6" fill="#8fd08f"/>
<rect x="487.74" y="210.6" width="2.8" height="21.9" fill="#8fd08f"/>
<polyline points="315.2,222.6 322.76,227.6 330.32,240.75 337.89,238.5 345.45,238.9 353.01,237.6 360.57,241 368.14,235.5 375.7,229 383.26,233.1 390.82,221.9 398.39,220 405.95,215.6 413.51,220.6 421.07,218.5 428.64,211.9 436.2,218.1 443.76,221.9 451.32,226.5 458.89,228.75 466.45,223.75 474.01,222.75 481.57,220.6 489.14,219" fill="none" stroke="#1f8a43" stroke-width="1.4" stroke-linejoin="miter" stroke-linecap="butt" />
<text transform="translate(413.3,190.8) scale(0.89,1)" font-size="7.6" fill="#2a2a2a">More time during closed–loop stage</text>
<text transform="translate(413.9,255.8) scale(0.89,1)" font-size="7.6" fill="#2a2a2a">Less time during closed–loop stage</text>
<line x1="302.5" y1="313.1" x2="302.5" y2="415.6" stroke="#7f7f7f" stroke-width="1" />
<line x1="302" y1="415.1" x2="510" y2="415.1" stroke="#7f7f7f" stroke-width="1" />
<line x1="299.5" y1="318.7" x2="302.5" y2="318.7" stroke="#7f7f7f" stroke-width="1" />
<text x="298" y="321.75" font-size="8.4" text-anchor="end" font-weight="normal" fill="#2a2a2a" >4</text>
<line x1="299.5" y1="341.6" x2="302.5" y2="341.6" stroke="#7f7f7f" stroke-width="1" />
<text x="298" y="344.65" font-size="8.4" text-anchor="end" font-weight="normal" fill="#2a2a2a" >2</text>
<line x1="299.5" y1="364.5" x2="302.5" y2="364.5" stroke="#7f7f7f" stroke-width="1" />
<text x="298" y="367.55" font-size="8.4" text-anchor="end" font-weight="normal" fill="#2a2a2a" >0</text>
<line x1="299.5" y1="387.4" x2="302.5" y2="387.4" stroke="#7f7f7f" stroke-width="1" />
<text x="298" y="390.45" font-size="8.4" text-anchor="end" font-weight="normal" fill="#2a2a2a" >−2</text>
<line x1="299.5" y1="410.3" x2="302.5" y2="410.3" stroke="#7f7f7f" stroke-width="1" />
<text x="298" y="413.35" font-size="8.4" text-anchor="end" font-weight="normal" fill="#2a2a2a" >−4</text>
<line x1="310.6" y1="415.1" x2="310.6" y2="418.1" stroke="#7f7f7f" stroke-width="1" />
<text x="310.6" y="427.1" font-size="8.4" text-anchor="middle" font-weight="normal" fill="#2a2a2a" >0:00</text>
<line x1="318.35" y1="415.1" x2="318.35" y2="416.7" stroke="#7f7f7f" stroke-width="1" />
<line x1="326.1" y1="415.1" x2="326.1" y2="416.7" stroke="#7f7f7f" stroke-width="1" />
<line x1="333.85" y1="415.1" x2="333.85" y2="416.7" stroke="#7f7f7f" stroke-width="1" />
<line x1="341.6" y1="415.1" x2="341.6" y2="418.1" stroke="#7f7f7f" stroke-width="1" />
<text x="341.6" y="427.1" font-size="8.4" text-anchor="middle" font-weight="normal" fill="#2a2a2a" >4:00</text>
<line x1="349.35" y1="415.1" x2="349.35" y2="416.7" stroke="#7f7f7f" stroke-width="1" />
<line x1="357.1" y1="415.1" x2="357.1" y2="416.7" stroke="#7f7f7f" stroke-width="1" />
<line x1="364.85" y1="415.1" x2="364.85" y2="416.7" stroke="#7f7f7f" stroke-width="1" />
<line x1="372.6" y1="415.1" x2="372.6" y2="418.1" stroke="#7f7f7f" stroke-width="1" />
<text x="372.6" y="427.1" font-size="8.4" text-anchor="middle" font-weight="normal" fill="#2a2a2a" >8:00</text>
<line x1="380.35" y1="415.1" x2="380.35" y2="416.7" stroke="#7f7f7f" stroke-width="1" />
<line x1="388.1" y1="415.1" x2="388.1" y2="416.7" stroke="#7f7f7f" stroke-width="1" />
<line x1="395.85" y1="415.1" x2="395.85" y2="416.7" stroke="#7f7f7f" stroke-width="1" />
<line x1="403.6" y1="415.1" x2="403.6" y2="418.1" stroke="#7f7f7f" stroke-width="1" />
<text x="403.6" y="427.1" font-size="8.4" text-anchor="middle" font-weight="normal" fill="#2a2a2a" >12:00</text>
<line x1="411.35" y1="415.1" x2="411.35" y2="416.7" stroke="#7f7f7f" stroke-width="1" />
<line x1="419.1" y1="415.1" x2="419.1" y2="416.7" stroke="#7f7f7f" stroke-width="1" />
<line x1="426.85" y1="415.1" x2="426.85" y2="416.7" stroke="#7f7f7f" stroke-width="1" />
<line x1="434.6" y1="415.1" x2="434.6" y2="418.1" stroke="#7f7f7f" stroke-width="1" />
<text x="434.6" y="427.1" font-size="8.4" text-anchor="middle" font-weight="normal" fill="#2a2a2a" >16:00</text>
<line x1="442.35" y1="415.1" x2="442.35" y2="416.7" stroke="#7f7f7f" stroke-width="1" />
<line x1="450.1" y1="415.1" x2="450.1" y2="416.7" stroke="#7f7f7f" stroke-width="1" />
<line x1="457.85" y1="415.1" x2="457.85" y2="416.7" stroke="#7f7f7f" stroke-width="1" />
<line x1="465.6" y1="415.1" x2="465.6" y2="418.1" stroke="#7f7f7f" stroke-width="1" />
<text x="465.6" y="427.1" font-size="8.4" text-anchor="middle" font-weight="normal" fill="#2a2a2a" >20:00</text>
<line x1="473.35" y1="415.1" x2="473.35" y2="416.7" stroke="#7f7f7f" stroke-width="1" />
<line x1="481.1" y1="415.1" x2="481.1" y2="416.7" stroke="#7f7f7f" stroke-width="1" />
<line x1="488.85" y1="415.1" x2="488.85" y2="416.7" stroke="#7f7f7f" stroke-width="1" />
<line x1="496.6" y1="415.1" x2="496.6" y2="418.1" stroke="#7f7f7f" stroke-width="1" />
<text x="496.6" y="427.1" font-size="8.4" text-anchor="middle" font-weight="normal" fill="#2a2a2a" >24:00</text>
<line x1="504.35" y1="415.1" x2="504.35" y2="416.7" stroke="#7f7f7f" stroke-width="1" />
<text transform="translate(272.8,366.3) rotate(-90)" font-size="8.4" text-anchor="middle" fill="#2a2a2a">Percent of time with</text>
<text transform="translate(281.5,366.3) rotate(-90)" font-size="8.4" text-anchor="middle" fill="#2a2a2a">glucose &#160;&lt;3.9 mmol/L</text>
<line x1="302.5" y1="364.4" x2="509.7" y2="364.4" stroke="#6a6a6a" stroke-width="1.15" />
<rect x="309.2" y="364.4" width="2.8" height="15.35" fill="#8fd08f"/>
<rect x="316.95" y="364.4" width="2.8" height="19.1" fill="#8fd08f"/>
<rect x="324.7" y="361.5" width="2.8" height="30" fill="#8fd08f"/>
<rect x="332.45" y="364.4" width="2.8" height="19.6" fill="#8fd08f"/>
<rect x="340.2" y="369" width="2.8" height="20" fill="#8fd08f"/>
<rect x="347.95" y="364.4" width="2.8" height="16.2" fill="#8fd08f"/>
<rect x="355.7" y="364.4" width="2.8" height="15.85" fill="#8fd08f"/>
<rect x="363.45" y="365.6" width="2.8" height="13.4" fill="#8fd08f"/>
<rect x="371.2" y="364.4" width="2.8" height="10.6" fill="#8fd08f"/>
<rect x="378.95" y="364.4" width="2.8" height="15.1" fill="#8fd08f"/>
<rect x="386.7" y="361" width="2.8" height="13.6" fill="#8fd08f"/>
<rect x="394.45" y="361" width="2.8" height="14.1" fill="#8fd08f"/>
<rect x="402.2" y="361" width="2.8" height="23.75" fill="#8fd08f"/>
<rect x="409.95" y="358" width="2.8" height="24.25" fill="#8fd08f"/>
<rect x="417.7" y="357.1" width="2.8" height="23.9" fill="#8fd08f"/>
<rect x="425.45" y="359" width="2.8" height="23.75" fill="#8fd08f"/>
<rect x="433.2" y="364.4" width="2.8" height="19.1" fill="#8fd08f"/>
<rect x="440.95" y="357.75" width="2.8" height="39.15" fill="#8fd08f"/>
<rect x="448.7" y="355.25" width="2.8" height="36.25" fill="#8fd08f"/>
<rect x="456.45" y="347.25" width="2.8" height="45.25" fill="#8fd08f"/>
<rect x="464.2" y="355.25" width="2.8" height="17.5" fill="#8fd08f"/>
<rect x="471.95" y="362.25" width="2.8" height="27.5" fill="#8fd08f"/>
<rect x="479.7" y="361.5" width="2.8" height="14.75" fill="#8fd08f"/>
<rect x="487.45" y="364.4" width="2.8" height="16.2" fill="#8fd08f"/>
<polyline points="310.6,373.1 318.35,373.1 326.1,371.9 333.85,374.4 341.6,377.25 349.35,368.1 357.1,368.1 364.85,369.5 372.6,367.25 380.35,368.5 388.1,366.25 395.85,370.25 403.6,371 411.35,365.25 419.1,366.25 426.85,367.5 434.6,373.5 442.35,369.4 450.1,372.75 457.85,365 465.6,364.4 473.35,366.9 481.1,370 488.85,368.1" fill="none" stroke="#1f8a43" stroke-width="1.4" stroke-linejoin="miter" stroke-linecap="butt" />
<text transform="translate(412.3,332.1) scale(0.89,1)" font-size="7.6" fill="#2a2a2a">More time during closed–loop stage</text>
<text transform="translate(413,406.2) scale(0.89,1)" font-size="7.6" fill="#2a2a2a">Less time during closed–loop stage</text>
<text x="406.3" y="441" font-size="8.6" text-anchor="middle" font-weight="normal" fill="#2a2a2a" >Time of day (h)</text>
</svg>
</body></html>
